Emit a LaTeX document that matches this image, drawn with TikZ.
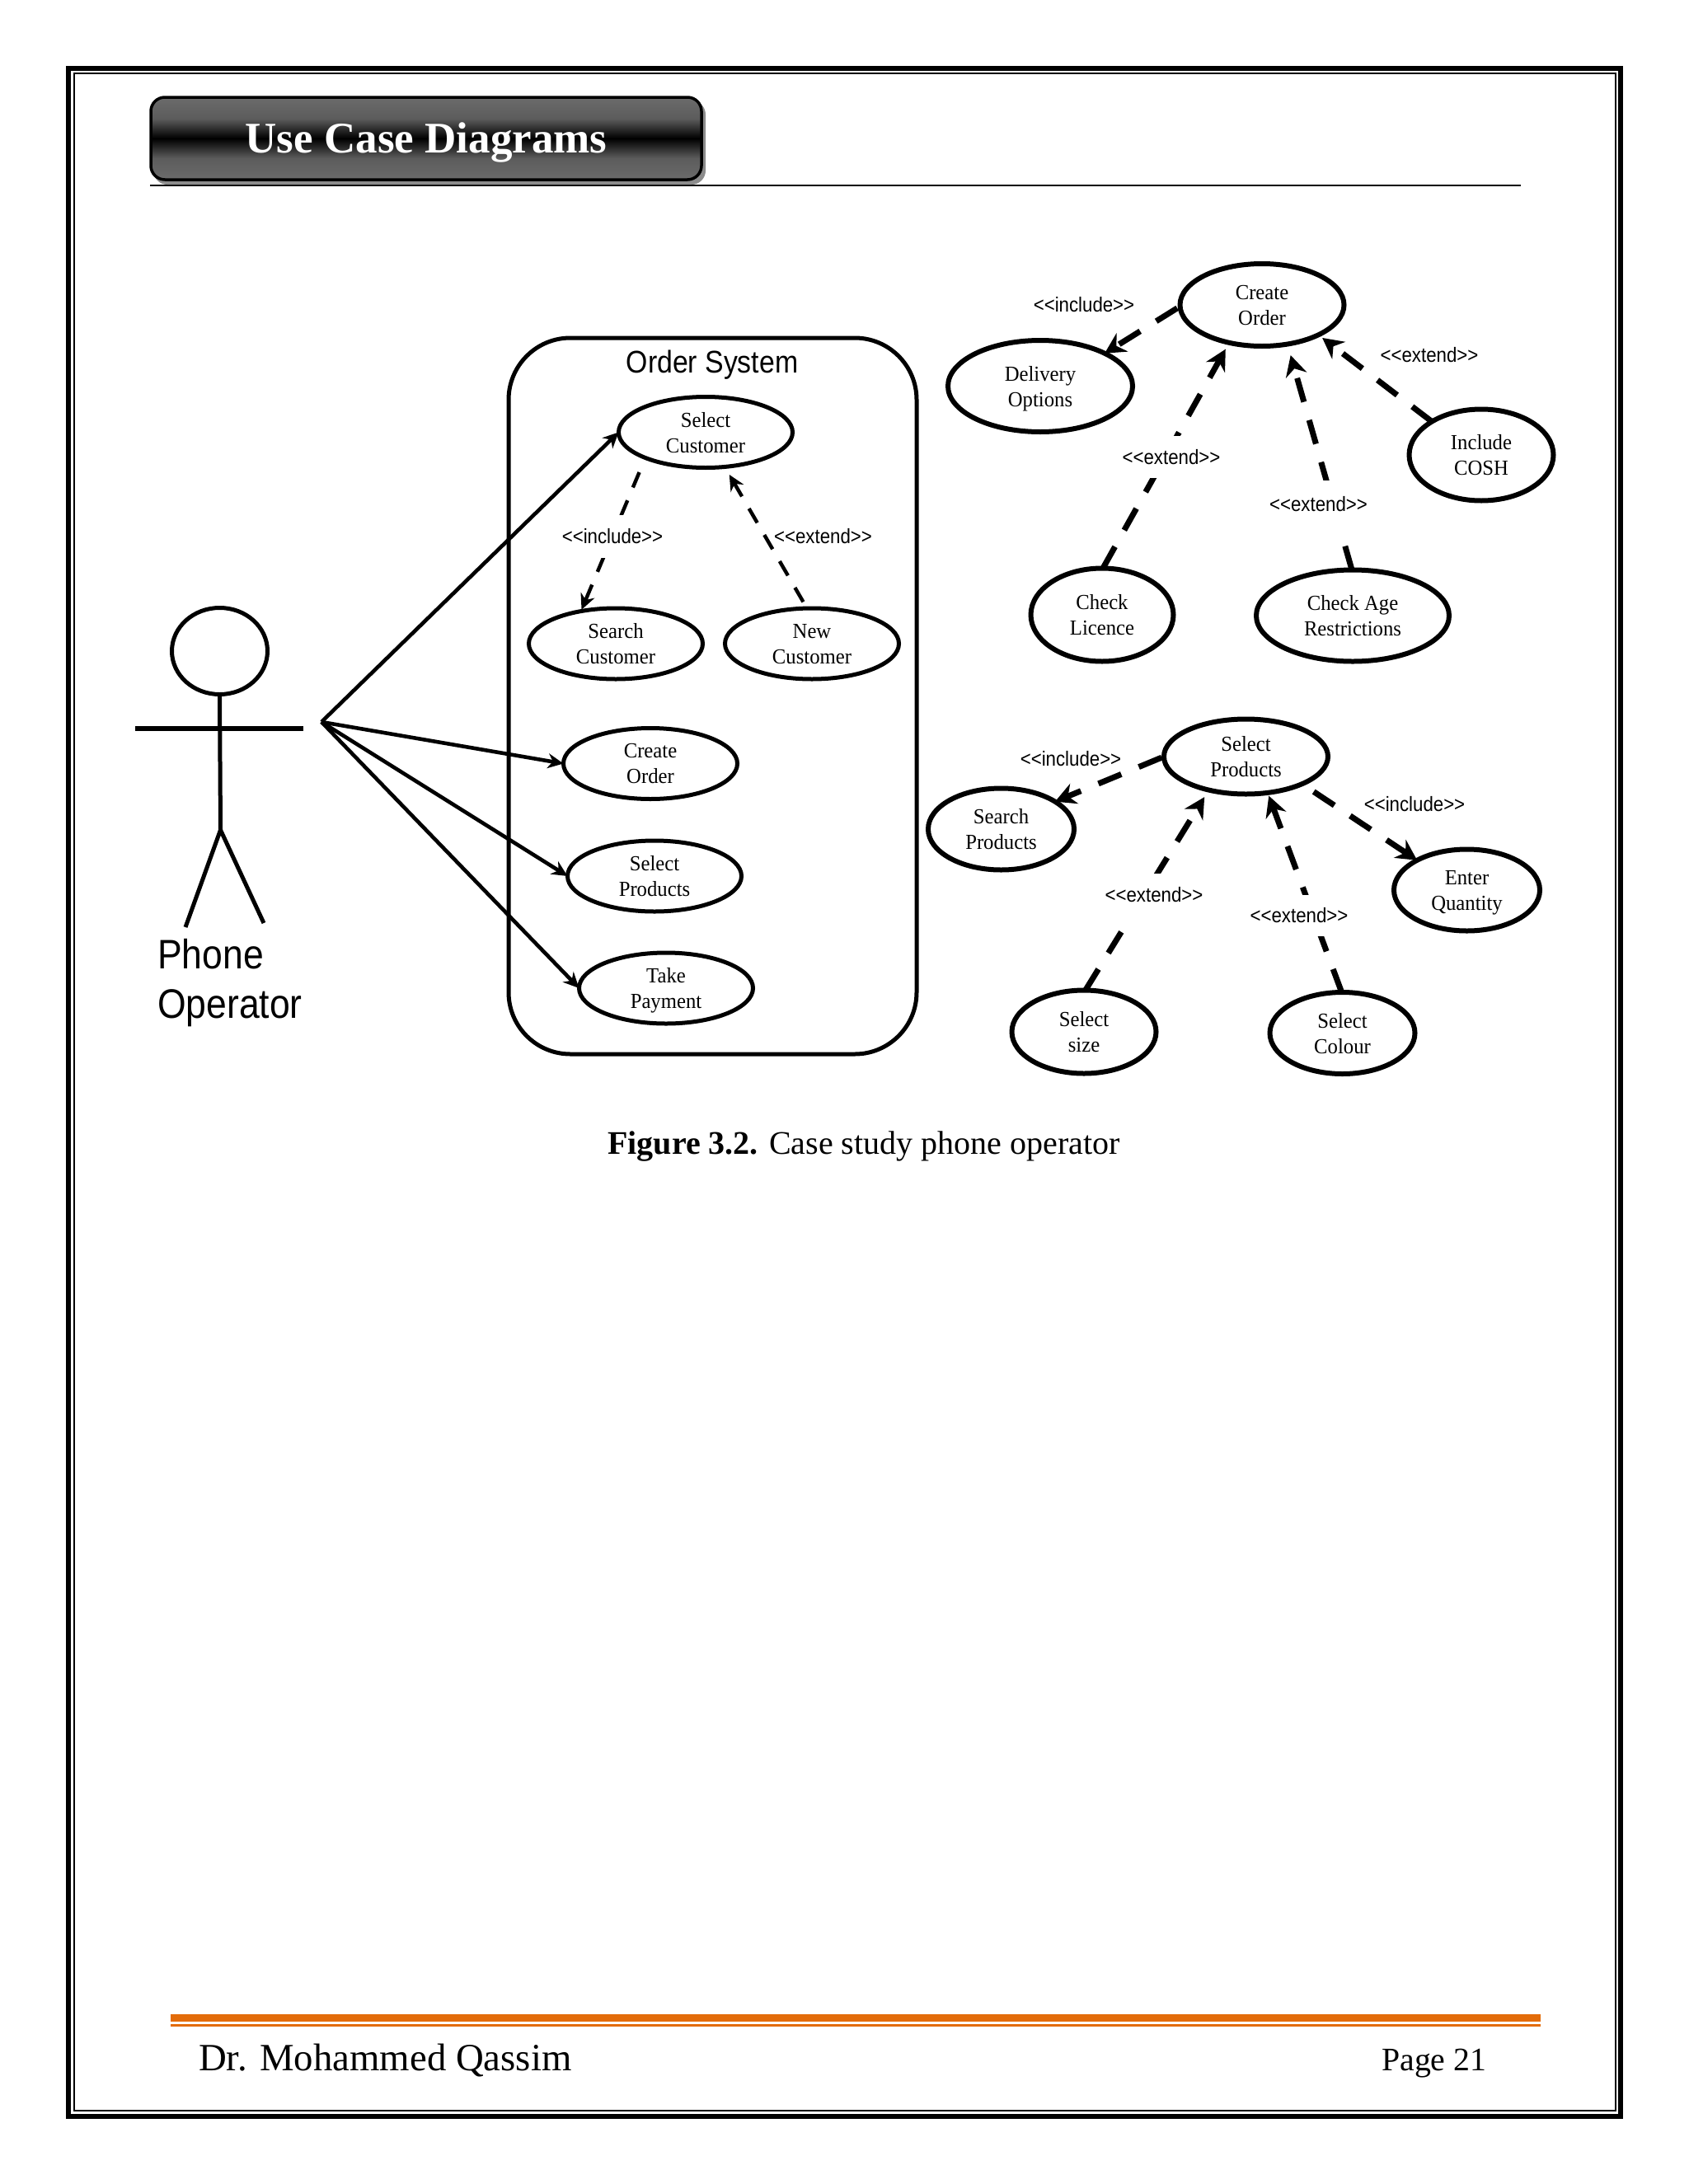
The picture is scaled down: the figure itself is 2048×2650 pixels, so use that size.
\documentclass[tikz,border=0pt]{standalone}
\usepackage{fontspec}
\usetikzlibrary{shapes.geometric,arrows.meta}
\setmainfont{Liberation Serif}
\newfontfamily\sansn{Liberation Sans}[FakeStretch=0.89]
\newfontfamily\serifn{Liberation Serif}[FakeStretch=0.95]
\newcommand\ucfont{\serifn\fontsize{26}{31}\selectfont}
\newcommand\lblfont{\sansn\fontsize{25}{30}\selectfont}
\definecolor{rule}{HTML}{E36C0A}
\pgfdeclareverticalshading{titleband}{100bp}{
  rgb(0bp)=(.42,.42,.42); rgb(25bp)=(.42,.42,.42); rgb(38bp)=(.36,.36,.36); rgb(50bp)=(0,0,0);
  rgb(62bp)=(.36,.36,.36); rgb(75bp)=(.42,.42,.42); rgb(100bp)=(.42,.42,.42)}
\tikzset{
  uc/.style n args={3}{ellipse,draw=black,fill=white,line width=#3,minimum width=#1,minimum height=#2,inner sep=0pt,outer sep=0pt,align=center,font=\ucfont,text depth=0pt},
  ucs/.style 2 args={uc={#1}{#2}{5pt}},
  ucb/.style 2 args={uc={#1}{#2}{6pt}},
  lbl/.style={font=\lblfont,inner xsep=0pt,inner ysep=0pt,fill=white},
  assoc/.style={line width=4.6pt,-{Stealth[length=19pt,width=18pt]}},
  depS/.style={line width=4.4pt,dash pattern=on 20pt off 17pt,-{Stealth[length=19pt,width=18pt]}},
  depB/.style={line width=7pt,dash pattern=on 30pt off 23pt,-{Stealth[length=25pt,width=26pt]}},
  stick/.style={line width=5pt},
}
\begin{document}
\begin{tikzpicture}[x=1pt,y=-1pt]
\useasboundingbox (0,0) rectangle (2048,2650);
% page frame
\draw[line width=6pt] (83,82.5) rectangle (1966,2568);
\draw[line width=2.5pt] (90,89) rectangle (1960,2561);
% title
\coordinate (tl) at (182,225);
\coordinate (tr) at (1845,225);
\draw[line width=2.5pt] (tl) -- (tr);
\fill[gray!90, rounded corners=17pt] (186,122) rectangle (856,224);
\node[name=title,rectangle,rounded corners=17pt,draw=black,line width=3.5pt,shading=titleband,minimum width=668pt,minimum height=100pt,inner sep=0pt,text=white,font=\bfseries\fontsize{53}{60}\selectfont] at (517,168) {\rule{0pt}{46pt}Use Case Diagrams};
% system box
\draw[line width=5pt,rounded corners=75pt] (617,410) rectangle (1112,1279);
\node[name=systitle,font=\sansn\fontsize{38}{44}\selectfont,inner sep=0pt] at (864,443) {Order System};
% actor
\node[name=head,ellipse,draw,line width=5pt,minimum width=116pt,minimum height=105pt,inner sep=0pt,outer sep=0pt] at (266.5,790) {};
\coordinate (hip) at (267.5,1007);
\coordinate (armL) at (164,884);
\coordinate (armR) at (368,884);
\coordinate (legL) at (225,1125);
\coordinate (legR) at (320,1120);
\draw[stick] (head.south) -- (hip);
\draw[line width=5.5pt] (armL) -- (armR);
\draw[stick] (legL) -- (hip) -- (legR);
\node[name=actor,anchor=west,align=left,inner sep=0pt,font=\sansn\fontsize{50}{60}\selectfont] at (191,1193) {Phone\\Operator};
% system use cases
\node[ucs={211pt}{86pt},name=sc]  at (856,524.5) {Select\\Customer};
\node[ucs={211pt}{86pt},name=scu] at (747,781) {Search\\Customer};
\node[ucs={211pt}{86pt},name=nc]  at (985,781) {New\\Customer};
\node[ucs={211pt}{86pt},name=co]  at (789,926.5) {Create\\Order};
\node[ucs={211pt}{86pt},name=sp]  at (794,1063) {Select\\Products};
\node[ucs={211pt}{86pt},name=tp]  at (808,1199) {Take\\Payment};
\coordinate (hub) at (390,876);
\draw[assoc] (hub) -- (sc.west);
\draw[assoc] (hub) -- (co.west);
\draw[assoc] (hub) -- (sp.west);
\draw[assoc] (hub) -- (tp.west);
\draw[depS,shorten <=19pt,shorten >=2pt] (sc.203) -- (scu.137);
\draw[depS,shorten <=9pt,shorten >=11pt] (nc.98) -- (sc.299);
\node[lbl,name=l1,minimum height=52pt] at (743,651) {<<include>>};
\node[lbl,name=l2] at (998.5,651) {<<extend>>};
% create order detail
\node[ucb={199pt}{100pt},name=co2] at (1531,370) {Create\\Order};
\node[ucb={224pt}{111pt},name=do] at (1262,468.5) {Delivery\\Options};
\node[ucb={175pt}{111pt},name=ic] at (1797,552) {Include\\COSH};
\node[ucb={173pt}{113pt},name=cl] at (1337,746) {Check\\Licence};
\node[ucb={234pt}{111pt},name=ca] at (1641,747) {Check Age\\Restrictions};
\draw[depB,shorten <=4pt] (co2.181) -- (do.27);
\draw[depB,shorten >=9pt] (cl.89) -- (co2.229);
\draw[depB,shorten >=14pt] (ca.91) -- (co2.303);
\draw[depB,shorten >=6pt] (ic.146) -- (co2.332);
\node[lbl,name=l3] at (1315,370) {<<include>>};
\node[lbl,name=l4] at (1734,430.5) {<<extend>>};
\node[lbl,name=l5,anchor=base,text height=35pt,text depth=16pt] at (1421,563.5) {<<extend>>};
\node[lbl,name=l6,anchor=base,text height=37pt,text depth=40pt] at (1599.5,620) {<<extend>>};
% select products detail
\node[ucb={199pt}{91pt},name=sp2] at (1511.5,918) {Select\\Products};
\node[ucb={177pt}{99pt},name=srp] at (1214.5,1006) {Search\\Products};
\node[ucb={177pt}{99pt},name=eq] at (1779.5,1080) {Enter\\Quantity};
\node[ucb={175pt}{101pt},name=ss] at (1315,1252) {Select\\size};
\node[ucb={176pt}{99pt},name=sco] at (1628.5,1253.5) {Select\\Colour};
\draw[depB,shorten <=3pt] (sp2.180) -- (srp.27);
\draw[depB,shorten <=17pt] (sp2.334) -- (eq.149);
\draw[depB,shorten >=10pt] (ss.88) -- (sp2.222);
\draw[depB,shorten >=4pt] (sco.91) -- (sp2.301);
\node[lbl,name=l7] at (1299,921) {<<include>>};
\node[lbl,name=l8] at (1716,976) {<<include>>};
\node[lbl,name=l9,anchor=base,text height=34pt,text depth=33pt] at (1400,1094) {<<extend>>};
\node[lbl,name=l10,minimum height=50pt] at (1576,1111) {<<extend>>};
% caption
\node[name=caption,anchor=center,inner sep=0pt,font=\fontsize{40}{48}\selectfont] at (1048,1391) {\textbf{Figure 3.2.} Case study phone operator};
% footer
\fill[rule] (207,2444) rectangle (1869,2453);
\fill[rule] (207,2456) rectangle (1869,2459);
\node[name=author,anchor=base west,inner sep=0pt,font=\fontsize{46.8}{54}\selectfont] at (241,2512) {Dr. Mohammed Qassim};
\node[name=page,anchor=base west,inner sep=0pt,font=\fontsize{39.8}{46}\selectfont] at (1676,2512) {Page 21};
\end{tikzpicture}
\end{document}
